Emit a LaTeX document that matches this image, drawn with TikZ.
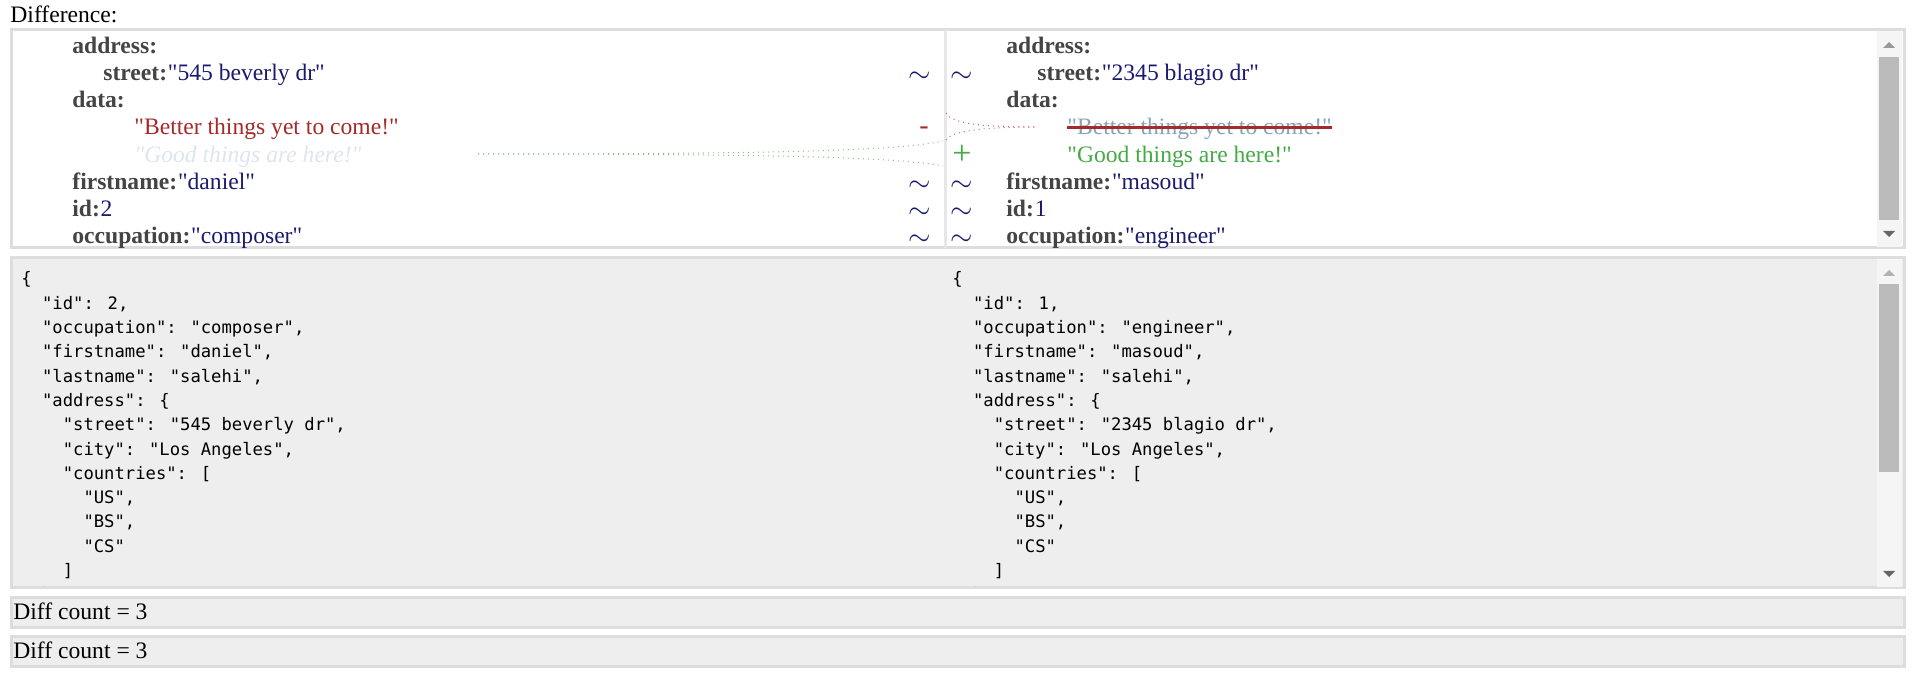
\documentclass[tikz,border=0pt]{standalone}
\usepackage{fontspec}
\setmainfont{Liberation Serif}[Ligatures=TeXOff]
\newfontfamily\monof{DejaVu Sans Mono}
\begin{document}
\begin{tikzpicture}[x=0.5pt,y=-0.5pt,
  lbl/.style={anchor=base west,inner sep=0pt,font=\fontsize{11.8}{13}\selectfont},
  key/.style={lbl,text=keyc,font=\fontsize{11.8}{13}\selectfont\bfseries},
  val/.style={lbl,text=valc},
  sym/.style={anchor=base,inner sep=0pt,font=\fontsize{14}{14}\selectfont},
  mono/.style={anchor=base west,inner sep=0pt,font=\monof\fontsize{8.6}{10}\selectfont},
  panel/.style={draw=bordc,line width=1.5pt},
  flow/.style={dotted,line width=0.5pt}]
\definecolor{keyc}{HTML}{444444}
\definecolor{valc}{HTML}{1A1A70}
\definecolor{redc}{HTML}{A52A2A}
\definecolor{grnc}{HTML}{44AA44}
\definecolor{bordc}{HTML}{DDDDDD}
\definecolor{bgc}{HTML}{EEEEEE}
\definecolor{fadec}{HTML}{DDE6EE}
\definecolor{strc}{HTML}{88A4BA}
\useasboundingbox (0,0) rectangle (1917,699);
\fill[white] (0,0) rectangle (1917,699);
\node[lbl] (title) at (10,23) {Difference:};
% top panel
\draw[panel,fill=white] (11,30) rectangle (1904,248);
\draw[line width=1.5pt,draw=bordc!70] (945,30) -- (945,248);
\fill[bgc!60] (1877,31) rectangle (1902,247);
\fill[black!27] (1879,57) rectangle (1899,220);
\fill[black!40] (1883,48) -- (1895,48) -- (1889,42) -- cycle;
\fill[black!60] (1883,231) -- (1895,231) -- (1889,237) -- cycle;
% left side
\node[key] (la) at (72,54) {address:};
\node[key] (ls) at (103,81) {street:};
\node[val] (lsv) at (ls.base east) {"545 beverly dr"};
\node[key] (ld) at (72,108) {data:};
\node[lbl,text=redc] (lb) at (134,135) {"Better things yet to come!"};
\node[lbl,text=fadec,font=\fontsize{11.8}{13}\selectfont\itshape] (lg) at (134,163) {"Good things are here!"};
\node[key] (lf) at (72,190) {firstname:};
\node[val] (lfv) at (lf.base east) {"daniel"};
\node[key] (li) at (72,217) {id:};
\node[val] (liv) at (li.base east) {2};
\node[key] (lo) at (72,244) {occupation:};
\node[val] (lov) at (lo.base east) {"composer"};
\node[sym,text=valc] (m1) at (920,83) {$\sim$};
\node[sym,text=redc] (m2) at (924,135) {-};
\node[sym,text=valc] (m3) at (920,192) {$\sim$};
\node[sym,text=valc] (m4) at (920,219) {$\sim$};
\node[sym,text=valc] (m5) at (920,246) {$\sim$};
% right side
\node[key] (ra) at (1006,54) {address:};
\node[key] (rs) at (1037,81) {street:};
\node[val] (rsv) at (rs.base east) {"2345 blagio dr"};
\node[key] (rd) at (1006,108) {data:};
\node[lbl,text=strc] (rb) at (1067,135) {"Better things yet to come!"};
\draw[redc,line width=1.2pt] ([yshift=3.8pt]rb.base west) -- ([yshift=3.8pt]rb.base east);
\node[lbl,text=grnc] (rg) at (1067,163) {"Good things are here!"};
\node[key] (rf) at (1006,190) {firstname:};
\node[val] (rfv) at (rf.base east) {"masoud"};
\node[key] (ri) at (1006,217) {id:};
\node[val] (riv) at (ri.base east) {1};
\node[key] (ro) at (1006,244) {occupation:};
\node[val] (rov) at (ro.base east) {"engineer"};
\node[sym,text=valc] (n1) at (962,83) {$\sim$};
\node[sym,text=grnc,font=\fontsize{17}{17}\selectfont] (n2) at (962,165) {+};
\node[sym,text=valc] (n3) at (962,192) {$\sim$};
\node[sym,text=valc] (n4) at (962,219) {$\sim$};
\node[sym,text=valc] (n5) at (962,246) {$\sim$};
% connectors
\coordinate (rp) at (1038,127);
\coordinate (ru) at (946,113);
\coordinate (rl) at (946,140);
\draw[flow,redc!70] (ru) .. controls (952,125) and (990,127) .. (rp);
\draw[flow,redc!70] (rl) .. controls (952,130) and (990,127) .. (rp);
\coordinate (gs) at (478,154);
\coordinate (gu) at (943,141);
\coordinate (gl) at (943,166);
\draw[flow,grnc!70] (gs) .. controls (800,154) and (900,150) .. (gu);
\draw[flow,grnc!70] (gs) .. controls (800,154) and (900,158) .. (gl);
% JSON panel
\draw[panel,fill=bgc] (11,258) rectangle (1904,588);
\fill[bgc!60] (1877,259) rectangle (1902,587);
\fill[black!27] (1879,284) rectangle (1899,472);
\fill[black!30] (1883,276) -- (1895,276) -- (1889,270) -- cycle;
\fill[black!60] (1883,571) -- (1895,571) -- (1889,577) -- cycle;
\begin{scope}
\clip (12,259) rectangle (1903,587);
\foreach \t [count=\i] in {
{\{},{\ \ "id": 2,},{\ \ "occupation": "composer",},{\ \ "firstname": "daniel",},{\ \ "lastname": "salehi",},{\ \ "address": \{},{\ \ \ \ "street": "545 beverly dr",},{\ \ \ \ "city": "Los Angeles",},{\ \ \ \ "countries": [},{\ \ \ \ \ \ "US",},{\ \ \ \ \ \ "BS",},{\ \ \ \ \ \ "CS"},{\ \ \ \ ]},{\ \ \},}}
  \node[mono] (jl\i) at (21,285+24.3*\i-24.3) {\t};
\foreach \t [count=\i] in {
{\{},{\ \ "id": 1,},{\ \ "occupation": "engineer",},{\ \ "firstname": "masoud",},{\ \ "lastname": "salehi",},{\ \ "address": \{},{\ \ \ \ "street": "2345 blagio dr",},{\ \ \ \ "city": "Los Angeles",},{\ \ \ \ "countries": [},{\ \ \ \ \ \ "US",},{\ \ \ \ \ \ "BS",},{\ \ \ \ \ \ "CS"},{\ \ \ \ ]},{\ \ \},}}
  \node[mono] (jr\i) at (952,285+24.3*\i-24.3) {\t};
\end{scope}
% diff counts
\draw[panel,fill=bgc] (11,598) rectangle (1904,628);
\node[lbl] (dc1) at (13,620) {Diff count = 3};
\draw[panel,fill=bgc] (11,637) rectangle (1904,667);
\node[lbl] (dc2) at (13,659) {Diff count = 3};
\end{tikzpicture}
\end{document}
